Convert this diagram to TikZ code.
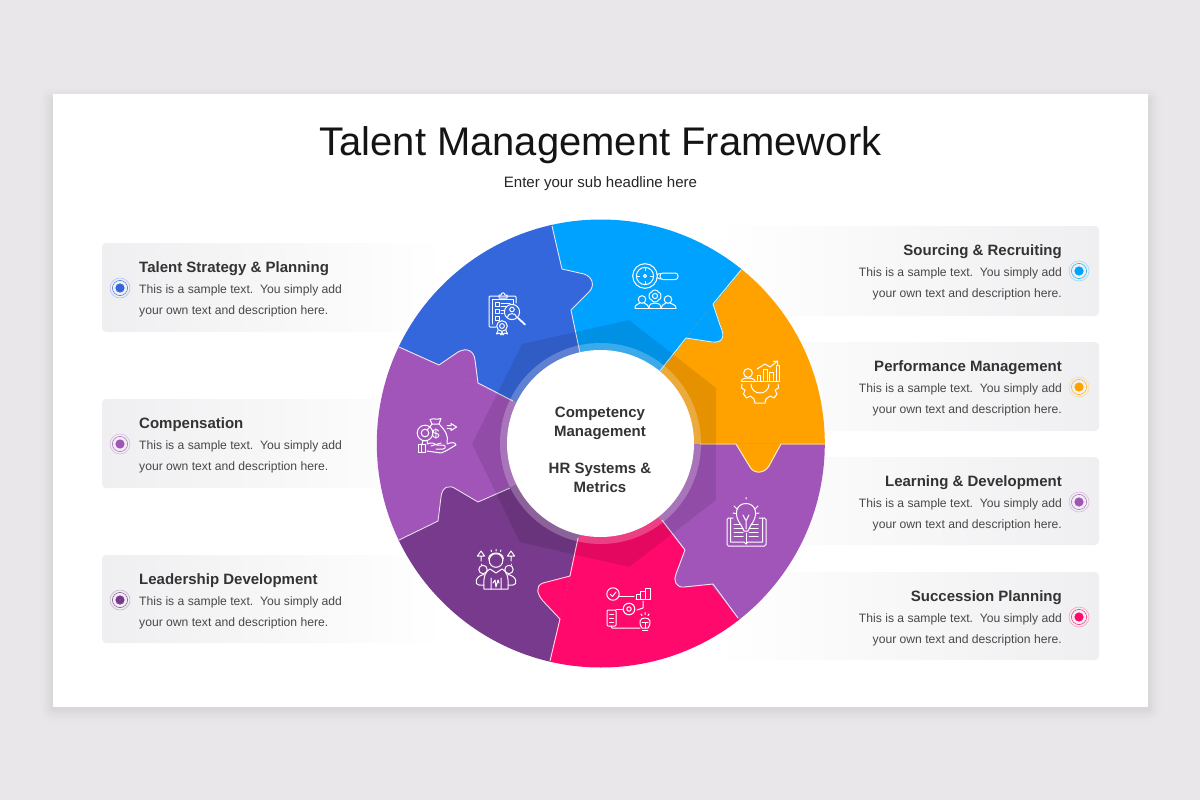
\documentclass[tikz,border=0pt]{standalone}
\usepackage{fontspec}
\setmainfont{Liberation Sans}
\usetikzlibrary{calc}
\definecolor{bgc}{HTML}{E9E7E9}
\definecolor{panelc}{HTML}{EFEFF1}
\definecolor{cblue}{HTML}{3567DC}
\definecolor{ccyan}{HTML}{00A2FF}
\definecolor{corange}{HTML}{FFA200}
\definecolor{cpurple}{HTML}{A155B9}
\definecolor{cpink}{HTML}{FF0A6C}
\definecolor{cdark}{HTML}{773A8C}
\definecolor{headc}{HTML}{333333}
\definecolor{bodyc}{HTML}{484848}
\tikzset{
  ico/.style={draw=white,line width=1pt,line cap=round,line join=round},
  edgeline/.style={draw=white,draw opacity=.85,line width=.9pt,line join=round},
  headl/.style={inner sep=0pt,text=headc,font=\fontsize{15}{18}\selectfont\bfseries},
  bodyl/.style={inner sep=0pt,text=bodyc,font=\fontsize{12.15}{15}\selectfont},
  centl/.style={inner sep=0pt,text=headc,font=\fontsize{15}{18}\selectfont\bfseries,anchor=base},
}
\newcommand{\bA}{(552,226) -- (562,269) -- (584,274) .. controls (593,277) and (595,286) .. (589,292) -- (571,310) -- (580,353)}
\newcommand{\bB}{(741,270) -- (713,304) -- (720,325) .. controls (726,338) and (722,343) .. (712,342) -- (686,338) -- (660,371)}
\newcommand{\bC}{(825,444) -- (781,444) -- (769,466) .. controls (764,474) and (754,474) .. (750,467) -- (736,444) -- (700,444)}
\newcommand{\bD}{(738,618) -- (713,584) -- (684,587) .. controls (676,588) and (673,580) .. (676,574) -- (685,550) -- (662,520)}
\newcommand{\bE}{(550,661) -- (560,619) -- (543,601) .. controls (537,594) and (535,586) .. (543,583) -- (570,576) -- (578,538)}
\newcommand{\bF}{(399,540) -- (438,521) -- (441,497) .. controls (442,487) and (449,484) .. (456,489) -- (478,502) -- (510,488)}
\newcommand{\bG}{(399,347) -- (439,365) -- (458,352) .. controls (467,347) and (474,351) .. (475,360) -- (478,383) -- (513,401)}
\newcommand{\wedgefill}[3]{\fill[#1] (600.5,443.5) -- ($(600.5,443.5)!1.35!#2$) -- ($(600.5,443.5)!1.35!#3$) -- cycle;}
\newcommand{\leftitem}[5]{%
  \shade[left color=panelc,right color=white,rounded corners=4pt] (102,#2) rectangle (445,#3);
  \node[headl,anchor=base west] (#1h) at (139,{#2+29.5}) {#5};
  \node[bodyl,anchor=base west] (#1a) at (139,{#2+50.5}) {This is a sample text.\ \ You simply add};
  \node[bodyl,anchor=base west] (#1b) at (139,{#2+71.5}) {your own text and description here.};
  \dotmark{120}{{#2+45}}{#4}
}
\newcommand{\rightitem}[5]{%
  \shade[right color=panelc,left color=white,rounded corners=4pt] (715,#2) rectangle (1099,#3);
  \node[headl,anchor=base east] (#1h) at (1062,{#2+29.5}) {#5};
  \node[bodyl,anchor=base east] (#1a) at (1062,{#2+50}) {This is a sample text.\ \ You simply add};
  \node[bodyl,anchor=base east] (#1b) at (1062,{#2+71}) {your own text and description here.};
  \dotmark{1079}{{#2+45}}{#4}
}
\newcommand{\dotmark}[3]{%
  \fill[#3] (#1,#2) circle[radius=4.6pt];
  \draw[#3!80!white,line width=.6pt] (#1,#2) circle[radius=7.6pt];
  \draw[#3!40!white,line width=.6pt] (#1,#2) circle[radius=10pt];
}
\begin{document}
\begin{tikzpicture}[x=1pt,y=-1pt]
\useasboundingbox (0,0) rectangle (1200,800);
\fill[bgc] (0,0) rectangle (1200,800);
% card shadow
\foreach \i/\o in {14/.004,12/.005,10/.006,8/.008,6/.010,4/.012,2/.014}{
  \fill[black,opacity=\o,rounded corners=\i pt] ({53-\i},{94-\i+6}) rectangle ({1148+\i},{707+\i+2});
}
\fill[white] (53,94) rectangle (1148,707);
% panels
\leftitem{la}{243}{332}{cblue}{Talent Strategy \& Planning}
\leftitem{lb}{399}{488}{cpurple}{Compensation}
\leftitem{lc}{555}{643}{cdark}{Leadership Development}
\rightitem{ra}{226}{316}{ccyan}{Sourcing \& Recruiting}
\rightitem{rb}{342}{431}{corange}{Performance Management}
\rightitem{rc}{457}{545}{cpurple}{Learning \& Development}
\rightitem{rd}{572}{660}{cpink}{Succession Planning}
% title
\node[inner sep=0pt,anchor=base,text=black!92,font=\fontsize{39.95}{46}\selectfont] (title) at (600.5,155) {Talent Management Framework};
\node[inner sep=0pt,anchor=base,text=black!85,font=\fontsize{15.05}{18}\selectfont] (sub) at (600.5,187.5) {Enter your sub headline here};
% ring
\begin{scope}
\clip (600.8,443.5) circle[radius=224pt];
\wedgefill{cblue}{(399,347)}{(552,226)}
\wedgefill{ccyan}{(552,226)}{(741,270)}
\wedgefill{corange}{(741,270)}{(825,444)}
\wedgefill{cpurple}{(825,444)}{(738,618)}
\wedgefill{cpink}{(738,618)}{(550,661)}
\wedgefill{cdark}{(550,661)}{(399,540)}
\wedgefill{cpurple}{(399,540)}{(399,347)}
\filldraw[cblue,line width=.8pt] \bA -- cycle;
\filldraw[ccyan,line width=.8pt] \bB -- cycle;
\filldraw[corange,line width=.8pt] \bC -- cycle;
\filldraw[cpurple,line width=.8pt] \bD -- cycle;
\filldraw[cpink,line width=.8pt] \bE -- cycle;
\filldraw[cdark,line width=.8pt] \bF -- cycle;
\filldraw[cpurple,line width=.8pt] \bG -- cycle;
\draw[edgeline] \bA;
\draw[edgeline] \bB;
\draw[edgeline] \bC;
\draw[edgeline] \bD;
\draw[edgeline] \bE;
\draw[edgeline] \bF;
\draw[edgeline] \bG;
\end{scope}
% dark heptagon
\fill[black,opacity=.10] (629,320) -- (716,388) -- (716,500) -- (629,567) -- (520,542) -- (472,444) -- (522,344) -- cycle;
% hub
\fill[white,opacity=.23] (600.5,443.5) circle[radius=100.5pt];
\fill[white] (600.5,443.5) circle[radius=93.5pt];
\node[centl] (c1) at (600,417) {Competency};
\node[centl] (c2) at (600,436) {Management};
\node[centl] (c3) at (600,473) {HR Systems \&};
\node[centl] (c4) at (600,492) {Metrics};
% ---- icon: clipboard
\begin{scope}[ico]
\draw[rounded corners=1pt] (496,327) -- (489,327) -- (489,296) -- (516,296) -- (516,303);
\draw (492,324) -- (492,299) -- (513,299) -- (513,304);
\draw (499,298) -- (499,295) -- (501,295) .. controls (502,292) and (504,292) .. (505,295) -- (507,295) -- (507,298) -- cycle;
\draw (495,302) rectangle (499,306);
\draw (495,309) rectangle (499,313);
\draw (495,316) rectangle (499,320);
\draw (501,303) -- (510,303) (501,306) -- (506,306) (501,310) -- (504,310) (501,313) -- (503,313);
\draw (512,312) circle[radius=7.6pt];
\draw (512,309.5) circle[radius=2.3pt];
\draw (507.5,317) .. controls (508,312.5) and (516,312.5) .. (516.5,317);
\draw[line width=1.8pt] (518,318) -- (525,324.5);
\draw (502,326) circle[radius=5.3pt];
\draw (502,326) circle[radius=2.4pt];
\draw (498,330.5) -- (496.5,334) -- (499.5,333) -- (501,335) -- (502,332) -- (503,335) -- (504.5,333) -- (507.5,334) -- (506,330.5);
% ---- icon: search + team
\draw (645,276) circle[radius=12.3pt];
\draw (645,276) circle[radius=8.6pt];
\draw (645,276) circle[radius=1.6pt];
\draw (645,267.5) -- (645,270.5) (645,281.5) -- (645,284.5) (636.5,276) -- (639.5,276) (650.5,276) -- (653.5,276);
\draw (657,274.5) -- (660,273.5);
\draw (657,277.5) -- (660,279);
\draw[rounded corners=2.8pt] (660,273) rectangle (678,279.5);
\draw (655,296) circle[radius=2.6pt];
\draw (655,290) -- (657,290.5) -- (658.5,292) -- (660.5,293.5) -- (661,296) -- (660.5,298.5) -- (658.5,300) -- (657,301.5) -- (655,302) -- (653,301.5) -- (651.5,300) -- (649.5,298.5) -- (649,296) -- (649.5,293.5) -- (651.5,292) -- (653,290.5) -- cycle;
\draw (642,299.5) circle[radius=3.8pt];
\draw (668,299.5) circle[radius=3.8pt];
\draw (635,308) .. controls (635,304.5) and (638,304.5) .. (640,303);
\draw (644,303) .. controls (646,304.5) and (649,305) .. (649,308);
\draw (661,308) .. controls (661,305) and (664,304.5) .. (666,303);
\draw (670,303) .. controls (672,304.5) and (676,304.5) .. (676,308);
\draw (635,308) -- (676,308);
\draw (649,308) .. controls (649,304) and (652,303) .. (655,303) .. controls (658,303) and (661,304) .. (661,308);
% ---- icon: growth + gear
\draw (748,373) circle[radius=4.4pt];
\draw (741.5,381) .. controls (741.5,377) and (754.5,377) .. (755,381);
\draw (757,381) -- (757,375) -- (760,375) -- (760,381);
\draw (763,381) -- (763,369.5) -- (767,369.5) -- (767,381);
\draw (769.5,381) -- (769.5,372) -- (773,372) -- (773,381);
\draw (776,381) -- (776,365) -- (779.5,365) -- (779.5,381);
\draw (741,381.5) -- (780,381.5);
\draw (757,369) -- (765,364) -- (770,367) -- (777,361.5);
\draw (773.5,361.5) -- (777.5,361) -- (777.5,365);
\draw (742,384) -- (741.5,388) -- (745,390) -- (743.5,394) -- (746.5,398) -- (750.5,396) -- (754,399) -- (755,403) -- (765,403) -- (766,399) -- (770,396) -- (774,398) -- (777,394) -- (775,390) -- (778.5,388) -- (778,384);
\draw (751,384) .. controls (751,396) and (769,396) .. (769,384);
% ---- icon: book + bulb
\draw (741,525) .. controls (733,515) and (736,503.5) .. (746,503.5) .. controls (756,503.5) and (759,515) .. (751,525);
\draw (741,525) -- (744,531) -- (748,531) -- (751,525);
\draw (743,515) -- (745.5,520) (749,515) -- (746.5,520) (746,520) -- (746,529);
\draw (734,506) -- (737,509) (733,513) -- (735.5,513.5) (758,506) -- (755,509) (759,513) -- (756.5,513.5) (746,497.5) -- (746,499);
\draw[rounded corners=1.5pt] (733,518) -- (727,518) -- (727,546) -- (766,546) -- (766,518) -- (759,518);
\draw (730.5,518) -- (730.5,542) -- (744,542) -- (746,544) -- (748,542) -- (762.5,542) -- (762.5,518);
\draw (734,524) -- (740,524) (734,528) -- (743,528) (734,532) -- (743,532) (734,536) -- (743,536);
\draw (752,524) -- (758,524) (749,528) -- (758,528) (749,532) -- (758,532) (749,536) -- (758,536);
\draw (746,533) -- (746,544);
% ---- icon: process
\draw (613,594) circle[radius=6.2pt];
\draw (610.5,594.5) -- (612.5,596.5) -- (616,592);
\draw (619.5,596.5) -- (634,596.5);
\draw (636,599) -- (636,594) -- (640,594) -- (640,599) (640,599) -- (640,591.5) -- (645,591.5) -- (645,599) (645,599) -- (645,588.5) -- (650,588.5) -- (650,599) -- (636,599);
\draw (643,601) -- (643,608) -- (637,610);
\draw (629,609) circle[radius=2.2pt];
\draw (629,609) circle[radius=5.8pt];
\draw (623,609) -- (616,609);
\draw[rounded corners=1pt] (607,610) rectangle (616,626);
\draw (609.5,614) -- (613.5,614) (609.5,618) -- (613.5,618) (609.5,622) -- (613.5,622);
\draw (611,626) -- (612,628) -- (640,628);
\draw (642,628) .. controls (638,622) and (640,618) .. (645,618) .. controls (650,618) and (652,622) .. (648,628) -- cycle;
\draw (642.5,630.5) -- (647.5,630.5);
\draw (642,622.5) -- (648,622.5) (645,622.5) -- (645,628);
\draw (641,614) -- (642,615.5) (645,612.5) -- (645,614.5) (649,614) -- (648,615.5);
% ---- icon: leader
\draw (496,560.5) circle[radius=6.8pt];
\draw (488.5,559) .. controls (489,551) and (503,551) .. (503.5,559);
\draw (483,569.5) circle[radius=4.2pt];
\draw (509,569.5) circle[radius=4.2pt];
\draw (484,585) -- (479,585) .. controls (474,585) and (475,576) .. (484,574.5);
\draw (508,585) -- (513,585) .. controls (518,585) and (517,576) .. (508,574.5);
\draw (484,589) .. controls (483,575) and (486,571) .. (490,569) -- (496,573) -- (502,569) .. controls (506,571) and (509,575) .. (508,589) -- cycle;
\draw (491,589) -- (491,578) (501,589) -- (501,578) (493,583) -- (495,580) -- (496,587) -- (498,580) -- (499,583);
\draw (481,561) -- (481,556) -- (477.5,556) -- (481,551) -- (484.5,556) -- (481,556);
\draw (511,561) -- (511,556) -- (507.5,556) -- (511,551) -- (514.5,556) -- (511,556);
\draw (481,564) -- (481,565) (511,564) -- (511,565);
\draw (496,549.5) -- (496,551) (491,550) -- (491.5,551.5) (501,550) -- (500.5,551.5);
% ---- icon: money + hand
\draw (432,424) -- (430,419.5) .. controls (433,418) and (437,420) .. (441,418.5) -- (439,424) -- cycle;
\draw (432,424) .. controls (430,427) and (428,429) .. (427,430);
\draw (439,424) .. controls (445,430) and (449,436) .. (447,443);
\draw (431,446) -- (441,443);
\draw (425,433) circle[radius=7.8pt];
\draw (425,433) circle[radius=3.8pt];
\draw (423,441) -- (422,444) (427,441) -- (428,444);
\draw (418,444) rectangle (425,452.5);
\draw (421.5,444) -- (421.5,452.5);
\draw (447,425.5) -- (451,425.5) -- (451,423.5) -- (456.5,427) -- (451,430.5) -- (451,428.5) -- (447,428.5);
\draw (427,444) .. controls (432,442) and (434,443) .. (437,445) -- (443,445) .. controls (446,445) and (446,449) .. (443,449) -- (436,449);
\draw (427,451) -- (441,453) .. controls (447,451) and (452,447) .. (456,445) .. controls (455,442) and (452,442) .. (447,444);
\end{scope}
\node[inner sep=0pt,text=white,font=\fontsize{13}{13}\selectfont] (dollar) at (436,434) {\$};
\end{tikzpicture}
\end{document}
